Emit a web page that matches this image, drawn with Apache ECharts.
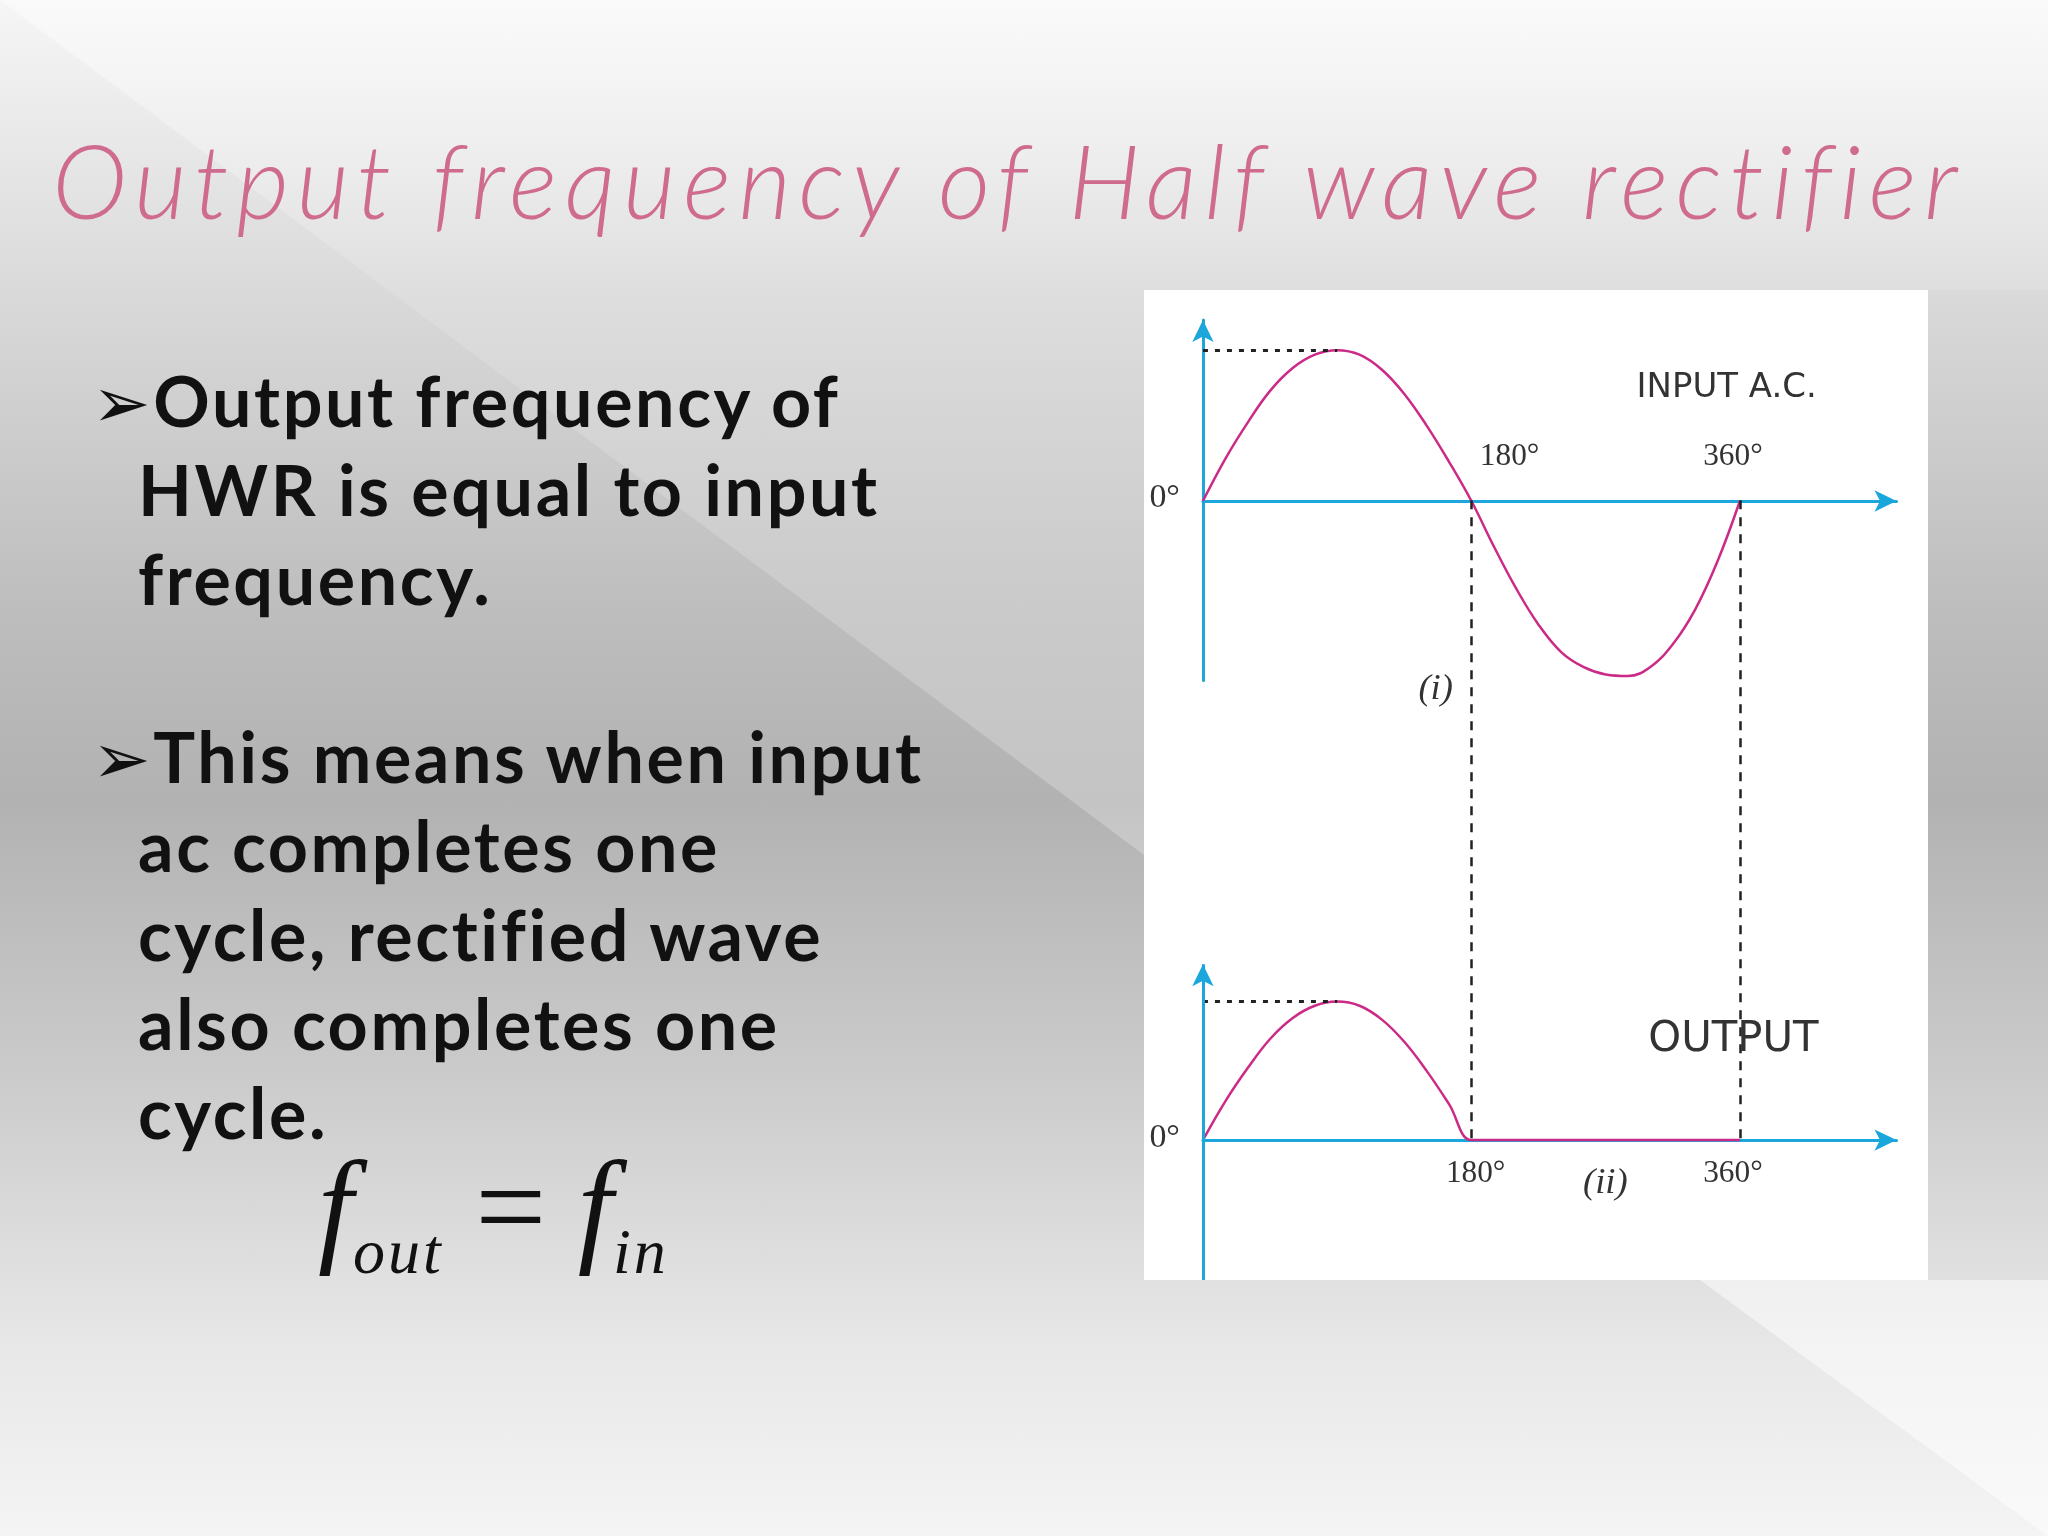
<!DOCTYPE html>
<html><head><meta charset="utf-8">
<script src="https://cdn.jsdelivr.net/npm/echarts@6/dist/echarts.min.js"></script>
<style>
html,body{margin:0;padding:0;width:2048px;height:1536px;overflow:hidden}
#bg{position:absolute;left:0;top:0;width:2048px;height:1536px;background:linear-gradient(180deg,#f6f6f6 0%,#d8d8d8 20%,#bdbdbd 40%,#b2b2b2 52%,#cbcbcb 70%,#e8e8e8 88%,#f4f4f4 100%)}
#tri{position:absolute;left:0;top:0;width:2048px;height:1536px;background:linear-gradient(180deg,rgba(255,255,255,0.45) 0px,rgba(255,255,255,0.12) 290px,rgba(255,255,255,0.25) 855px);clip-path:polygon(0 0,1144px 855px,1144px 290px,2048px 290px,2048px 0)}
#tri2{position:absolute;left:0;top:0;width:2048px;height:1536px;background:rgba(255,255,255,0.5);clip-path:polygon(1700px 1280px,2048px 1536px,2048px 1280px)}
#panel{position:absolute;left:1144px;top:290px;width:784px;height:990px;background:#fff}
#title{position:absolute;left:52px;top:118px;font-family:"Lato","DejaVu Sans",sans-serif;font-style:italic;font-weight:300;font-size:102px;color:#cf6b8e;white-space:nowrap;letter-spacing:7.5px}
.txt{position:absolute;left:92px;font-family:"Lato","DejaVu Sans",sans-serif;font-weight:700;font-size:70px;line-height:89px;color:#111;white-space:nowrap;letter-spacing:2.6px}
.txt span{display:inline-block;width:46px}
#f{position:absolute;left:318px;top:1135px;font-family:"Liberation Serif","DejaVu Serif",serif;font-style:italic;font-size:126px;color:#111;white-space:nowrap}
#f sub{font-size:64px;vertical-align:-24px;letter-spacing:3px}
#c{position:absolute;left:0;top:0;width:2048px;height:1536px}
</style></head><body>
<div id="bg"></div><div id="tri"></div><div id="tri2"></div><div id="panel"></div>
<div id="title">Output frequency of Half wave rectifier</div>
<div class="txt" style="top:356px">➢Output frequency of<br><span></span>HWR is equal to input<br><span></span>frequency.</div>
<div class="txt" style="top:712px">➢This means when input<br><span></span>ac completes one<br><span></span>cycle, rectified wave<br><span></span>also completes one<br><span></span>cycle.</div>
<div id="f">f<sub>out</sub> <span style="font-style:normal">=</span> f<sub>in</sub></div>
<div id="c"></div>
<script>
const angles=[0,15,30,45,60,75,90,105,120,135,150,165,180,195,210,225,240,255,270,285,300,315,330,345,360];
const inputVals=[0,0.28,0.52,0.73,0.88,0.97,1.0,0.97,0.87,0.71,0.5,0.26,0,-0.3,-0.58,-0.82,-1.0,-1.1,-1.15,-1.16,-1.1,-0.95,-0.72,-0.4,0];
const outputVals=[0,0.28,0.52,0.73,0.88,0.97,1.0,0.97,0.87,0.71,0.5,0.26,0,0,0,0,0,0,0,0,0,0,0,0,0];
const S=2048/1568;
const cyan='#1ba6dc',mag='#cc2a87';
const ch=echarts.init(document.getElementById('c'));
function grid(top,bottom){return {left:921*S,width:(1452-921)*S,top:top*S,height:(bottom-top)*S};}
const axX=(i)=>({type:'value',gridIndex:i,min:0,max:465,axisLine:{onZero:true,lineStyle:{color:cyan,width:3},symbol:['none','arrow'],symbolSize:[16,22]},axisTick:{show:false},axisLabel:{show:false},splitLine:{show:false}});
const axY=(i,mn,mx,showLine)=>({type:'value',gridIndex:i,min:mn,max:mx,axisLine:{show:showLine,onZero:false,lineStyle:{color:cyan,width:3},symbol:['none','arrow'],symbolSize:[16,22]},axisTick:{show:false},axisLabel:{show:false},splitLine:{show:false}});
const dash={type:[9,8],color:'#222',width:2.5};
const lbl=(t,x,y,sz,font,style)=>({type:'text',left:x*S,top:y*S,z:10,style:{text:t,fontSize:sz*S,fontFamily:font,fontStyle:style||'normal',fill:'#333'}});
ch.setOption({
 animation:false,
 grid:[grid(245,521),grid(383,980)],
 xAxis:[axX(0),axX(1)],
 yAxis:[axY(0,-1.19,1.2,true),axY(1,-1.01,4.62,false)],
 series:[
  {type:'line',xAxisIndex:0,yAxisIndex:0,data:angles.map((a,i)=>[a,inputVals[i]]),smooth:0.4,showSymbol:false,lineStyle:{color:mag,width:2.5},
   markLine:{symbol:'none',silent:true,label:{show:false},lineStyle:dash,data:[
    [{coord:[0,1.0]},{coord:[90,1.0],lineStyle:{type:[5,7],width:3}}]]}},
  {type:'line',xAxisIndex:1,yAxisIndex:1,data:angles.map((a,i)=>[a,outputVals[i]]),smooth:0.4,showSymbol:false,lineStyle:{color:mag,width:2.5},
   markLine:{symbol:'none',silent:true,label:{show:false},lineStyle:dash,data:[
    [{coord:[0,1.0]},{coord:[90,1.0],lineStyle:{type:[5,7],width:3}}],
    [{coord:[180,4.62]},{coord:[180,0]}],
    [{coord:[360,4.62]},{coord:[360,0]}],
    [{coord:[0,-1.01],symbol:'none'},{coord:[0,1.27],symbol:'arrow',symbolSize:[16,22],lineStyle:{type:'solid',color:cyan,width:3}}]]}}
 ],
 graphic:[
  lbl('INPUT A.C.',1253,284,26,'"DejaVu Sans",sans-serif'),
  lbl('180°',1133,338,24,'"Liberation Serif",serif'),
  lbl('360°',1304,338,24,'"Liberation Serif",serif'),
  lbl('0°',880,368,26,'"Liberation Serif",serif'),
  lbl('(i)',1086,514,28,'"Liberation Serif",serif','italic'),
  lbl('OUTPUT',1262,780,32,'"DejaVu Sans",sans-serif'),
  lbl('0°',880,858,26,'"Liberation Serif",serif'),
  lbl('180°',1107,887,24,'"Liberation Serif",serif'),
  lbl('(ii)',1212,892,28,'"Liberation Serif",serif','italic'),
  lbl('360°',1304,887,24,'"Liberation Serif",serif')
 ]
});
</script></body></html>
